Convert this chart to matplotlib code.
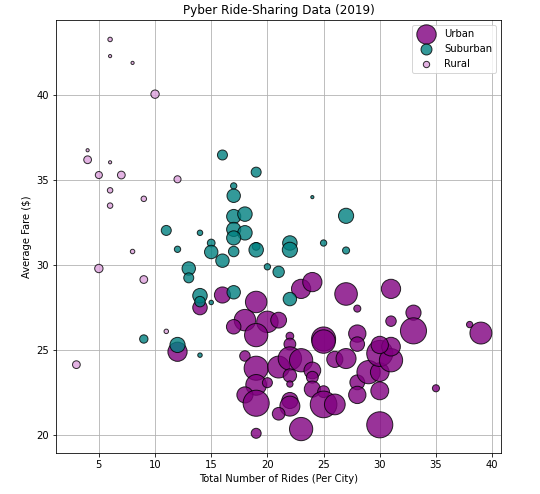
import matplotlib
matplotlib.use("Agg")
import matplotlib.pyplot as plt

# urban cities: rides, average fare, drivers
urban_rides = [16, 14, 12, 19, 18, 17, 20, 21, 19, 22, 22, 23, 24, 18, 19, 19, 18, 19, 20, 19,
               21, 22, 22, 22, 22, 22, 21, 23, 23, 24, 24, 24, 25, 25, 26, 26, 27, 28, 28, 29,
               30, 30, 30, 30, 31, 31, 30, 28, 28, 27, 28, 31, 31, 33, 33, 25, 25, 38, 39, 35]
urban_fare = [28.24, 27.5, 24.9, 27.83, 26.76, 26.37, 26.66, 26.76, 25.88, 25.82, 25.35, 28.6, 29.0, 24.65, 23.93, 22.95, 22.36, 21.87, 23.08, 20.1,
              24.0, 24.5, 23.5, 23.0, 22.03, 21.7, 21.25, 20.35, 24.4, 23.8, 23.4, 22.7, 22.55, 21.8, 21.8, 24.45, 24.5, 23.1, 22.36, 23.7,
              23.7, 22.6, 20.6, 24.8, 24.4, 25.2, 25.3, 25.97, 25.35, 28.3, 27.44, 28.6, 26.7, 27.2, 26.13, 25.65, 25.5, 26.5, 26.0, 22.75]
urban_drivers = [26, 21, 37, 46, 46, 21, 46, 25, 54, 6, 14, 37, 37, 11, 58, 43, 26, 68, 10, 10,
                 48, 55, 18, 4, 26, 40, 16, 54, 54, 28, 14, 26, 14, 71, 43, 26, 40, 22, 30, 54,
                 35, 32, 68, 68, 54, 35, 30, 30, 21, 51, 5, 37, 11, 23, 68, 58, 55, 4, 48, 5]

# suburban cities
suburban_rides = [16, 19, 17, 17, 11, 14, 12, 17, 18, 17, 18, 17, 15, 15, 17, 19, 19, 16,
                  13, 20, 21, 13, 14, 14, 15, 17, 9, 12, 14, 24, 27, 22, 22, 25, 27, 22]
suburban_fare = [36.48, 35.47, 34.66, 34.08, 32.04, 31.9, 30.93, 32.86, 33.0, 32.1, 31.9, 31.6,
                 31.3, 30.77, 30.8, 31.1, 30.9, 30.26, 29.8, 29.9, 29.6, 29.25, 28.2, 27.85,
                 27.8, 28.4, 25.65, 25.3, 24.7, 34.0, 32.9, 31.3, 30.9, 31.3, 30.86, 28.0]
suburban_drivers = [10, 10, 4, 18, 10, 3, 4, 20, 21, 20, 21, 20, 6, 18, 11, 6, 21, 18,
                    18, 4, 13, 10, 21, 11, 2, 18, 7, 23, 2, 1, 23, 21, 23, 4, 5, 18]

# rural cities
rural_rides = [6, 6, 8, 10, 4, 4, 6, 5, 7, 12, 6, 9, 6, 8, 5, 9, 11, 3]
rural_fare = [43.28, 42.3, 41.9, 40.06, 36.76, 36.2, 36.05, 35.3, 35.3, 35.05, 34.4, 33.9,
              33.5, 30.8, 29.8, 29.15, 26.1, 24.14]
rural_drivers = [2, 1, 1, 7, 1, 6, 1, 5, 6, 5, 3, 3, 3, 2, 7, 6, 2, 6]

fig = plt.figure(figsize=(7.5, 494 / 72), dpi=72)
ax = fig.add_axes([0.104, 0.083, 0.824, 0.877])

ax.scatter(urban_rides, urban_fare, s=[10 * d for d in urban_drivers], c="purple",
           edgecolors="black", linewidths=1, alpha=0.8, label="Urban")
ax.scatter(suburban_rides, suburban_fare, s=[10 * d for d in suburban_drivers], c="teal",
           edgecolors="black", linewidths=1, alpha=0.8, label="Suburban")
ax.scatter(rural_rides, rural_fare, s=[10 * d for d in rural_drivers], c="plum",
           edgecolors="black", linewidths=1, alpha=0.8, label="Rural")

ax.set_title("Pyber Ride-Sharing Data (2019)")
ax.set_xlabel("Total Number of Rides (Per City)")
ax.set_ylabel("Average Fare ($)")
ax.grid(True)
ax.set_axisbelow(True)
ax.legend(loc="upper right")

fig.savefig("out.png", dpi=72)
